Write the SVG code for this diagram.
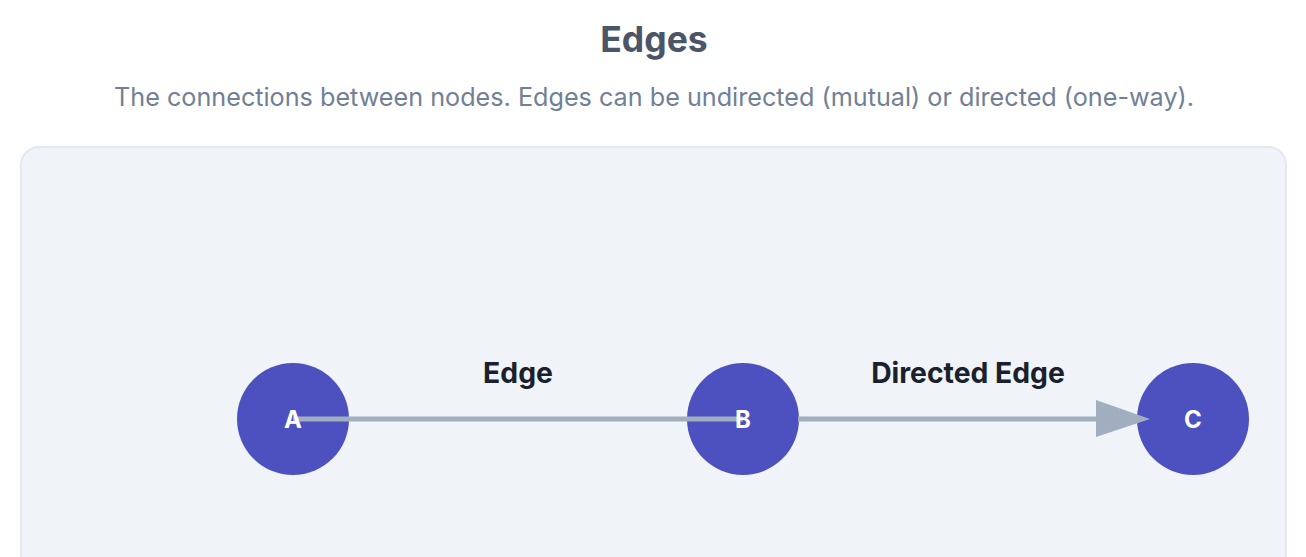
<svg xmlns="http://www.w3.org/2000/svg" width="1306" height="557" viewBox="0 0 1306 557">
<defs>
<style>
.title{font-family:Inter,"Liberation Sans",sans-serif;font-weight:700;font-size:35.5px;fill:#4a5568}
.sub{font-family:Inter,"Liberation Sans",sans-serif;font-size:25.2px;fill:#718096}
.node{fill:#4c51bf}
.nlabel{font-family:Inter,"Liberation Sans",sans-serif;font-weight:700;font-size:24px;fill:#ffffff}
.edge{stroke:#a0aec0;stroke-width:5;fill:none}
.elabel{font-family:Inter,"Liberation Sans",sans-serif;font-weight:700;font-size:28.3px;fill:#1a202c}
</style>
</defs>
<rect width="1306" height="557" fill="#ffffff"/>
<text class="title" x="654" y="52" text-anchor="middle">Edges</text>
<text class="sub" x="654" y="106" text-anchor="middle">The connections between nodes. Edges can be undirected (mutual) or directed (one-way).</text>
<rect x="21" y="147" width="1265" height="430" rx="18" fill="#f0f3f7" stroke="#e2e8f0" stroke-width="2"/>
<g id="node-A"><circle class="node" cx="293" cy="419" r="56"/></g>
<g id="node-B"><circle class="node" cx="743" cy="419" r="56"/></g>
<g id="node-C"><circle class="node" cx="1193" cy="419" r="56"/></g>
<g id="connectors">
<line class="edge" x1="293" y1="419" x2="743" y2="419"/>
<line class="edge" x1="798" y1="419" x2="1100" y2="419"/>
<polygon points="1096,400 1150,419 1096,437" fill="#a0aec0"/>
<text class="elabel" x="518" y="383" text-anchor="middle">Edge</text>
<text class="elabel" x="968" y="383" text-anchor="middle">Directed Edge</text>
</g>
<text class="nlabel" x="293" y="428" text-anchor="middle">A</text>
<text class="nlabel" x="743" y="428" text-anchor="middle">B</text>
<text class="nlabel" x="1193" y="428" text-anchor="middle">C</text>
</svg>
